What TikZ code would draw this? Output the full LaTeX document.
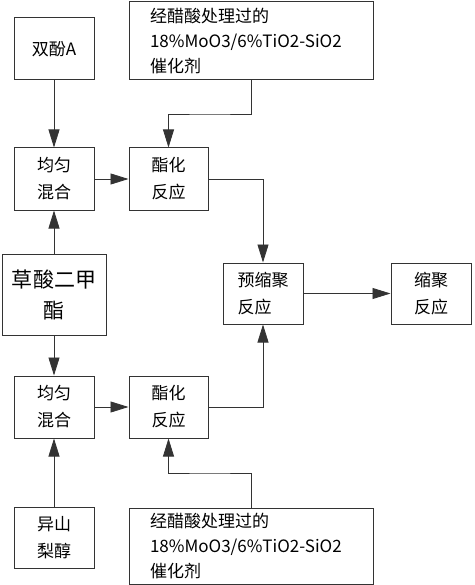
\documentclass[tikz,border=0pt]{standalone}
\usepackage{fontspec}
\setmainfont{Noto Sans CJK SC}
\usetikzlibrary{positioning}
\usetikzlibrary{calc}
\usetikzlibrary{arrows.meta}

\begin{document}
\begin{tikzpicture}[x=1pt,y=-1pt,
      stepblock/.style={draw=black!80,line width=1pt,rectangle,inner sep=0pt,minimum height=62pt,minimum width=80pt,
                        font=\fontsize{17}{27}\selectfont,align=center},
      catblock/.style={draw=black!80,line width=1pt,rectangle,inner xsep=21pt,inner ysep=0pt,minimum height=78pt,
                       text width=202pt,font=\fontsize{17}{25}\selectfont,align=left},
      flow/.style={draw=black!80,line width=0.8pt,-{Triangle[length=18pt,width=11pt]}}]
      \useasboundingbox (0,0) rectangle (474,585);

      % Blocks
      \node[stepblock]                                  at (54,49)     (bisphenol) {双酚A};
      \node[stepblock]                                  at (54,179)    (mixtop)    {均匀\\混合};
      \node[stepblock,minimum width=79pt]               at (168.5,179) (estertop)  {酯化\\反应};
      \node[catblock]                                   at (251,41)    (cattop)    {经醋酸处理过的\\18\%MoO3/6\%TiO2-SiO2\\催化剂};
      \node[stepblock,minimum width=104pt,minimum height=81pt,font=\fontsize{21}{31}\selectfont]
                                                        at (54,294.5)  (oxalate)   {草酸二甲\\酯};
      \node[stepblock,minimum height=61pt,align=left]   at (263,293.5) (precond)   {预缩聚\\反应};
      \node[stepblock,minimum height=61pt]              at (431,293.5) (polycond)  {缩聚\\反应};
      \node[stepblock]                                  at (54,407)    (mixbot)    {均匀\\混合};
      \node[stepblock,minimum width=79pt]               at (168.5,407) (esterbot)  {酯化\\反应};
      \node[stepblock,minimum height=61pt]              at (54,537.5)  (isosorb)   {异山\\梨醇};
      \node[catblock,minimum height=76pt]               at (251,546)   (catbot)    {经醋酸处理过的\\18\%MoO3/6\%TiO2-SiO2\\催化剂};

      % Arrows
      \draw[flow] (bisphenol) -- (mixtop);
      \draw[flow] (oxalate)   -- (mixtop);
      \draw[flow] (oxalate)   -- (mixbot);
      \draw[flow] (isosorb)   -- (mixbot);
      \draw[flow] (mixtop)    -- (estertop);
      \draw[flow] (mixbot)    -- (esterbot);
      \draw[flow] (cattop.south) |- ($(cattop.south)!0.5!(estertop.north)$) -| (estertop.north);
      \draw[flow] (catbot.north) |- ($(catbot.north)!0.5!(esterbot.south)$) -| (esterbot.south);
      \draw[flow] (estertop.east) -| (precond.north);
      \draw[flow] (esterbot.east) -| (precond.south);
      \draw[flow] (precond)   -- (polycond);

    \end{tikzpicture}
\end{document}
